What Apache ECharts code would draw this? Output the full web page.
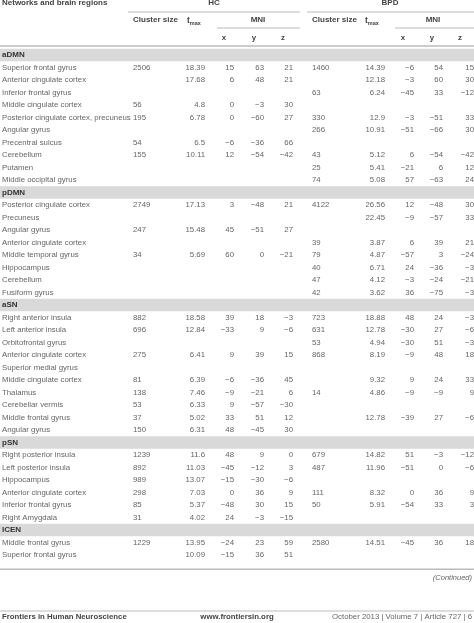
<!DOCTYPE html>
<html>
<head>
<meta charset="utf-8">
<script src="https://cdn.jsdelivr.net/npm/echarts@6/dist/echarts.min.js"></script>
<style>html,body{margin:0;padding:0;background:#fff}#chart{width:474px;height:623px}</style>
</head>
<body>
<div id="chart"></div>
<script>
// 1. data
var sections = ['aDMN', 'pDMN', 'aSN', 'pSN', 'lCEN'];
var sectionCounts = [10, 8, 10, 6, 2];
var regions = [
    'Superior frontal gyrus', 'Anterior cingulate cortex', 'Inferior frontal gyrus', 'Middle cingulate cortex',
    'Posterior cingulate cortex, precuneus', 'Angular gyrus', 'Precentral sulcus', 'Cerebellum', 'Putamen', 'Middle occipital gyrus',
    'Posterior cingulate cortex', 'Precuneus', 'Angular gyrus', 'Anterior cingulate cortex', 'Middle temporal gyrus',
    'Hippocampus', 'Cerebellum', 'Fusiform gyrus',
    'Right anterior insula', 'Left anterior insula', 'Orbitofrontal gyrus', 'Anterior cingulate cortex', 'Superior medial gyrus',
    'Middle cingulate cortex', 'Thalamus', 'Cerebellar vermis', 'Middle frontal gyrus', 'Angular gyrus',
    'Right posterior insula', 'Left posterior insula', 'Hippocampus', 'Anterior cingulate cortex', 'Inferior frontal gyrus', 'Right Amygdala',
    'Middle frontal gyrus', 'Superior frontal gyrus'
];
var hcSize = [2506, null, null, 56, 195, null, 54, 155, null, null,
    2749, null, 247, null, 34, null, null, null,
    882, 696, null, 275, null, 81, 138, 53, 37, 150,
    1239, 892, 989, 298, 85, 31,
    1229, null];
var hcTmax = [18.39, 17.68, null, 4.8, 6.78, null, 6.5, 10.11, null, null,
    17.13, null, 15.48, null, 5.69, null, null, null,
    18.58, 12.84, null, 6.41, null, 6.39, 7.46, 6.33, 5.02, 6.31,
    11.6, 11.03, 13.07, 7.03, 5.37, 4.02,
    13.95, 10.09];
var hcX = [15, 6, null, 0, 0, null, -6, 12, null, null,
    3, null, 45, null, 60, null, null, null,
    39, -33, null, 9, null, -6, -9, 9, 33, 48,
    48, -45, -15, 0, -48, 24,
    -24, -15];
var hcY = [63, 48, null, -3, -60, null, -36, -54, null, null,
    -48, null, -51, null, 0, null, null, null,
    18, 9, null, 39, null, -36, -21, -57, 51, -45,
    9, -12, -30, 36, 30, -3,
    23, 36];
var hcZ = [21, 21, null, 30, 27, null, 66, -42, null, null,
    21, null, 27, null, -21, null, null, null,
    -3, -6, null, 15, null, 45, 6, -30, 12, 30,
    0, 3, -6, 9, 15, -15,
    59, 51];
var bpdSize = [1460, null, 63, null, 330, 266, null, 43, 25, 74,
    4122, null, null, 39, 79, 40, 47, 42,
    723, 631, 53, 868, null, null, 14, null, null, null,
    679, 487, null, 111, 50, null,
    2580, null];
var bpdTmax = [14.39, 12.18, 6.24, null, 12.9, 10.91, null, 5.12, 5.41, 5.08,
    26.56, 22.45, null, 3.87, 4.87, 6.71, 4.12, 3.62,
    18.88, 12.78, 4.94, 8.19, null, 9.32, 4.86, null, 12.78, null,
    14.82, 11.96, null, 8.32, 5.91, null,
    14.51, null];
var bpdX = [-6, -3, -45, null, -3, -51, null, 6, -21, 57,
    12, -9, null, 6, -57, 24, -3, 36,
    48, -30, -30, -9, null, 9, -9, null, -39, null,
    51, -51, null, 0, -54, null,
    -45, null];
var bpdY = [54, 60, 33, null, -51, -66, null, -54, 6, -63,
    -48, -57, null, 39, 3, -36, -24, -75,
    24, 27, 51, 48, null, 24, -9, null, 27, null,
    -3, 0, null, 36, 33, null,
    36, null];
var bpdZ = [15, 30, -12, null, 33, 30, null, -42, 12, 24,
    30, 33, null, 21, -24, -3, -21, -3,
    -3, -6, -3, 18, null, 33, 9, null, -6, null,
    -12, -6, null, 9, 3, null,
    18, null];

// 2. layout
var textColor = '#666';
var fs = 7.8;
var rowTop = 55, rowH = 12.5;
var elems = [];

function fmt(v) {
    if (v === null) return '';
    return v < 0 ? '\u2212' + Math.abs(v) : String(v);
}
function txt(x, y, s, align, bold, color, size) {
    elems.push({
        type: 'text', x: x, y: y,
        style: {
            text: s, fill: color || textColor, fontSize: size || fs,
            fontFamily: 'Helvetica, Arial, "Liberation Sans", sans-serif',
            fontWeight: bold ? 'bold' : 'normal',
            align: align || 'left', verticalAlign: 'middle'
        }
    });
}
function line(x1, y1, x2, y2, w) {
    elems.push({ type: 'line', shape: { x1: x1, y1: y1, x2: x2, y2: y2 }, style: { stroke: '#bbb', lineWidth: w || 1 } });
}

// header
txt(2, 3, 'Networks and brain regions', 'left', true, '#444', 8);
txt(214, 3, 'HC', 'center', true, '#444', 8);
txt(390, 3, 'BPD', 'center', true, '#444', 8);
line(128, 12, 300, 12);
line(307, 12, 474, 12);
[[133, 187, 258, 224, 254, 283, 217, 300], [312, 365, 433, 403, 432, 460, 395, 474]].forEach(function (c) {
    txt(c[0], 20, 'Cluster size', 'left', true, '#444', 8);
    elems.push({
        type: 'text', x: c[1], y: 21,
        style: {
            text: '{t|t}{s|max}', fill: '#444', verticalAlign: 'middle',
            rich: { t: { fontSize: 8.5, fontWeight: 'bold', fill: '#444' }, s: { fontSize: 5.5, fontWeight: 'bold', fill: '#444', padding: [4, 0, 0, 0] } }
        }
    });
    txt(c[2], 20, 'MNI', 'center', true, '#444', 8);
    line(c[6], 28, c[7], 28);
    txt(c[3], 38, 'x', 'center', true, '#444');
    txt(c[4], 38, 'y', 'center', true, '#444');
    txt(c[5], 38, 'z', 'center', true, '#444');
});
line(0, 46, 474, 46, 1.5);

var cols = [
    [hcSize, 133, 'left'], [hcTmax, 205, 'right'], [hcX, 234, 'right'], [hcY, 264, 'right'], [hcZ, 293, 'right'],
    [bpdSize, 312, 'left'], [bpdTmax, 385, 'right'], [bpdX, 414, 'right'], [bpdY, 443, 'right'], [bpdZ, 474, 'right']
];
var k = 0, r = 0;
sections.forEach(function (sec, si) {
    var y = rowTop + k * rowH;
    elems.push({ type: 'rect', shape: { x: 0, y: y - rowH / 2, width: 474, height: rowH }, style: { fill: '#d9d9d9' }, z: -1 });
    txt(2, y, sec, 'left', true, '#333', 8);
    k++;
    for (var i = 0; i < sectionCounts[si]; i++, r++, k++) {
        var yy = rowTop + k * rowH;
        txt(2, yy, regions[r]);
        cols.forEach(function (c) { txt(c[1], yy, fmt(c[0][r]), c[2]); });
    }
});
var endY = rowTop + (k - 0.5) * rowH + 8;
line(0, endY, 474, endY, 1.5);
elems.push({ type: 'text', x: 472, y: endY + 9, style: { text: '(Continued)', fill: textColor, fontSize: 7.5, fontStyle: 'italic', align: 'right', verticalAlign: 'middle' } });
line(0, 611, 474, 611, 1.2);
txt(2, 617, 'Frontiers in Human Neuroscience', 'left', true, '#444');
txt(237, 617, 'www.frontiersin.org', 'center', true, '#444');
txt(472, 617, 'October 2013 | Volume 7 | Article 727 | 6', 'right', false);

// 3. chart
var mychart = echarts.init(document.getElementById('chart'));
mychart.setOption({ animation: false, graphic: { elements: elems } });
</script>
</body>
</html>
